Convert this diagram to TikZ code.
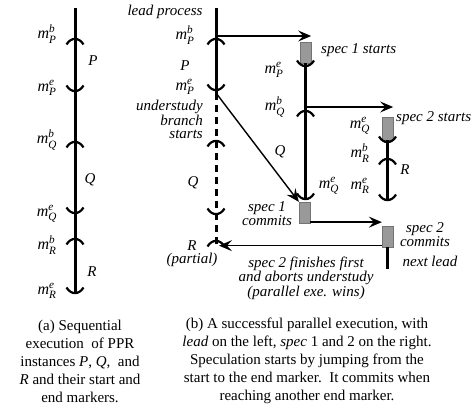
\documentclass[tikz,border=0pt]{standalone}
\usepackage{amsmath}
\usepackage{fontspec}
\setmainfont{Liberation Serif}
\usetikzlibrary{arrows.meta}
\newcommand\mk[2]{{\fontsize{16}{12}\selectfont\textit{m}$^{\text{\itshape #1}}_{\text{\itshape #2}}$}}
\tikzset{
  mainline/.style={line width=3pt},
  dashline/.style={line width=3pt, dash pattern=on 7pt off 5pt},
  jump/.style={line width=1.4pt, -{Stealth[length=13pt,width=11pt,inset=5pt]}},
  lbl/.style={font=\itshape\fontsize{15}{13}\selectfont, inner sep=0pt, align=center},
  captext/.style={font=\fontsize{15}{18}\selectfont, inner sep=0pt, align=center},
  specbox/.style={fill=gray!80, draw=gray!90!black, line width=0.3pt, minimum width=11pt, minimum height=21pt, inner sep=0pt},
  bm/.pic={\draw[line width=2.2pt] (-8.5,4.5) .. controls (-4,-3) and (4,-3) .. (8.5,4.5);},
  em/.pic={\draw[line width=2.2pt] (-8.5,-4.5) .. controls (-4,3) and (4,3) .. (8.5,-4.5);}
}
\begin{document}
\begin{tikzpicture}[x=1pt,y=-1pt]
\useasboundingbox (0,0) rectangle (474,419);
% ---------- panel (a) ----------
\coordinate (a0) at (75,8);
\coordinate (a1) at (75,292);
\draw[mainline] (a0) -- (a1);
\pic at (75,40) {bm};
\pic at (75,90) {em};
\pic at (75,143) {bm};
\pic at (75,212) {em};
\pic at (75,240) {bm};
\pic at (75,292) {em};
\node[lbl] (amPb) at (47,34) {\mk{b}{P}};
\node[lbl] (amPe) at (47,88) {\mk{e}{P}};
\node[lbl] (amQb) at (47,140) {\mk{b}{Q}};
\node[lbl] (amQe) at (47,214) {\mk{e}{Q}};
\node[lbl] (amRb) at (47,245) {\mk{b}{R}};
\node[lbl] (amRe) at (47,291) {\mk{e}{R}};
\node[lbl] (aP) at (93,61) {P};
\node[lbl] (aQ) at (90,180) {Q};
\node[lbl] (aR) at (92,272) {R};
\node[captext] (capa) at (80,361) {(a) Sequential\\execution\ \ of PPR\\instances \textit{P}, \textit{Q},\ \ and\\\textit{R} and their start and\\end markers.};
% ---------- panel (b) ----------
\coordinate (l0) at (216,8);
\coordinate (lp) at (216,36);
\coordinate (lsplit) at (216,93);
\coordinate (lend) at (216,246);
\draw[mainline] (l0) -- (lsplit);
\draw[dashline] (lsplit) -- (lend);
\pic at (216,40) {bm};
\pic at (216,89) {em};
\pic at (216,142) {bm};
\pic at (216,213) {em};
\pic at (216,242) {bm};

\node[specbox] (s1) at (305.5,52.5) {};
\coordinate (s1end) at (305.5,199);
\draw[mainline] (s1.south) -- (s1end);
\pic at (305.5,65) {em};
\pic at (305.5,112) {bm};
\pic at (305.5,198) {em};
\coordinate (s1q) at (305.5,107);

\node[specbox, minimum height=23pt] (s2) at (387.5,128.5) {};
\coordinate (s2end) at (387.5,200);
\draw[mainline] (s2.south) -- (s2end);
\pic at (387.5,141) {em};
\pic at (387.5,160) {bm};
\pic at (387.5,199) {em};

\node[specbox] (c1) at (304.5,212.5) {};
\node[specbox] (c2) at (387.5,236.5) {};
\coordinate (nl) at (387.5,269);
\draw[mainline] (c2.south) -- (nl);

% connectors
\draw[jump] (lp) -- (lp -| s1.east);
\draw[jump] (s1q) -- (s1q -| s2.east);
\draw[jump] (lsplit) -- (c1.north west);
\coordinate (c1o) at ([yshift=1pt]c1.south east);
\draw[jump] (c1o) -- (c1o -| c2.west);
\coordinate (c2o) at ([yshift=1.5pt]c2.south west);
\coordinate (lhit) at (219,0);
\draw[jump] (c2o) -- (c2o -| lhit);

% labels
\node[lbl] (leadp) at (165,12) {lead process};
\node[lbl] (bmPb) at (185,35) {\mk{b}{P}};
\node[lbl] (bP) at (185,66) {P};
\node[lbl] (bmPe) at (185,87) {\mk{e}{P}};
\node[lbl, align=right, anchor=north east] (under) at (203,100) {understudy\\branch\\starts};
\node[lbl] (bQ) at (193,183) {Q};
\node[lbl] (bR) at (192,254) {R\\(partial)};
\node[lbl, anchor=west] (s1s) at (321,50) {spec 1 starts};
\node[lbl] (smPe) at (274,70) {\mk{e}{P}};
\node[lbl] (smQb) at (275,107) {\mk{b}{Q}};
\node[lbl] (sQ) at (280,152) {Q};
\node[lbl, anchor=west] (s2s) at (396,118) {spec 2 starts};
\node[lbl] (tmQe) at (360,126) {\mk{e}{Q}};
\node[lbl] (tmRb) at (360,153) {\mk{b}{R}};
\node[lbl] (tR) at (405,170) {R};
\node[lbl] (tmRe) at (360,186) {\mk{e}{R}};
\node[lbl] (smQe) at (329,186) {\mk{e}{Q}};
\node[lbl] (s1c) at (267,214) {spec 1\\commits};
\node[lbl] (s2c) at (425,235) {spec 2\\commits};
\node[lbl] (nlead) at (430,261) {next lead};
\node[lbl] (fin) at (306,278) {spec 2 finishes first\\and aborts understudy\\(parallel exe. wins)};
\node[captext] (capb) at (307,361) {(b) A successful parallel execution, with\\\textit{lead} on the left, \textit{spec} 1 and 2 on the right.\\Speculation starts by jumping from the\\start to the end marker.\ \ It commits when\\reaching another end marker.};
\end{tikzpicture}
\end{document}
